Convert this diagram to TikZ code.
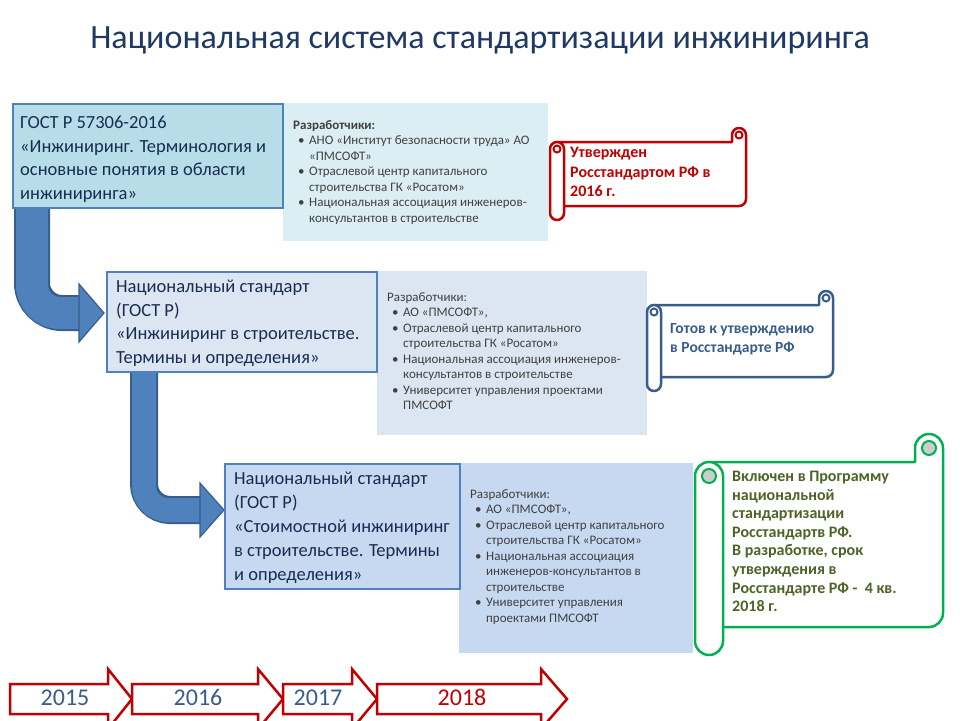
\documentclass[tikz,border=0pt]{standalone}
\usepackage{fontspec}
\setmainfont{Carlito}
\definecolor{ttl}{RGB}{31,56,100}
\definecolor{bord}{RGB}{56,93,138}
\definecolor{arr}{RGB}{79,129,189}
\definecolor{f1}{RGB}{183,222,232}
\definecolor{d1}{RGB}{218,238,243}
\definecolor{f2}{RGB}{220,230,242}
\definecolor{f3}{RGB}{198,217,241}
\definecolor{dred}{RGB}{192,0,0}
\definecolor{grn}{RGB}{0,176,80}
\definecolor{olv}{RGB}{79,98,40}
\definecolor{txt}{RGB}{23,45,80}
\definecolor{gtx}{RGB}{64,64,64}
\newcommand{\scrollshape}[6]{%
 \filldraw[fill=white,draw=#6,line width=2.5pt,line join=round]
  ({#1+#5},#2) -- ({#3-2*#5},#2) -- ({#3-2*#5},{#2-#5}) arc (180:360:#5)
  -- (#3,{#4-#5}) arc (0:90:#5) -- ({#1+#5},#4) -- cycle;
 \filldraw[fill=white,draw=#6,line width=2.5pt]
  (#1,{#2+#5}) arc (180:360:#5) -- ({#1+2*#5},{#4+#5}) arc (0:180:#5) -- cycle;
}
\tikzset{
 stdbox/.style={draw=arr,line width=1.5pt,anchor=north west,inner sep=0},
 devbox/.style={anchor=north west,inner sep=0},
 maintxt/.style={anchor=north west,inner sep=0,align=left,text=txt,font=\fontsize{18.5}{23.5}\selectfont},
 devtxt/.style={anchor=north west,inner sep=0,text=gtx,font=\fontsize{13}{15.5}\selectfont},
 yr/.style={draw=dred,fill=white,line width=2.5pt},
 yrtxt/.style={anchor=base,font=\fontsize{24}{24}\selectfont},
}
\newcommand{\dl}[1]{\makebox[16pt][l]{\hspace{5pt}\textbullet}#1}
\newcommand{\dc}[1]{\hspace*{16pt}#1}
\begin{document}
\begin{tikzpicture}[x=1pt,y=-1pt]
\useasboundingbox (0,0) rectangle (960,720);
\node[text=ttl,font=\fontsize{34}{36}\selectfont] (title) at (480,40) {Национальная система стандартизации инжиниринга};

% dev boxes
\node[devbox,fill=d1,minimum width=265,minimum height=138] (d1) at (283,103) {};
\node[devbox,fill=f2,minimum width=270,minimum height=164] (d2) at (377,271) {};
\node[devbox,fill=f3,minimum width=234,minimum height=190] (d3) at (459,463) {};

% arrows
\draw[bord,line width=36,rounded corners=30] (32,205) |- (82,313);
\draw[arr,line width=32,rounded corners=28] (32,207) |- (82,313);
\filldraw[fill=arr,draw=bord,line width=1.2pt] (79,284) -- (104,313) -- (79,342) -- cycle;
\draw[bord,line width=28,rounded corners=26] (144,369) |- (202,510);
\draw[arr,line width=24,rounded corners=24] (144,371) |- (202,510);
\filldraw[fill=arr,draw=bord,line width=1.2pt] (200,483) -- (224,510) -- (200,537) -- cycle;

% main boxes
\node[stdbox,fill=f1,minimum width=270,minimum height=104] (b1) at (12,103) {};
\node[stdbox,fill=f2,minimum width=270,minimum height=100] (b2) at (106,271) {};
\node[stdbox,fill=f3,minimum width=235,minimum height=125] (b3) at (224,463) {};

\node[maintxt] (t1) at (20,116) {ГОСТ Р 57306-2016\\«Инжиниринг. Терминология и\\основные понятия в области\\инжиниринга»};
\node[maintxt] (t2) at (116,280) {Национальный стандарт\\(ГОСТ Р)\\«Инжиниринг в строительстве.\\Термины и определения»};
\node[maintxt,font=\fontsize{18.5}{24}\selectfont] (t3) at (234,472) {Национальный стандарт\\(ГОСТ Р)\\«Стоимостной инжиниринг\\в строительстве. Термины\\и определения»};

\node[devtxt,align=left] (dt1) at (293,120) {\textbf{Разработчики:}\\\dl{АНО «Институт безопасности труда» АО}\\\dc{«ПМСОФТ»}\\\dl{Отраслевой центр капитального}\\\dc{строительства ГК «Росатом»}\\\dl{Национальная ассоциация инженеров-}\\\dc{консультантов в строительстве}};
\node[devtxt,align=left] (dt2) at (387,292) {Разработчики:\\\dl{АО «ПМСОФТ»,}\\\dl{Отраслевой центр капитального}\\\dc{строительства ГК «Росатом»}\\\dl{Национальная ассоциация инженеров-}\\\dc{консультантов в строительстве}\\\dl{Университет управления проектами}\\\dc{ПМСОФТ}};
\node[devtxt,align=left] (dt3) at (470,489) {Разработчики:\\\dl{АО «ПМСОФТ»,}\\\dl{Отраслевой центр капитального}\\\dc{строительства ГК «Росатом»}\\\dl{Национальная ассоциация}\\\dc{инженеров-консультантов в}\\\dc{строительстве}\\\dl{Университет управления}\\\dc{проектами ПМСОФТ}};

% scrolls
\scrollshape{550}{142}{746}{206}{7}{dred}
\draw[dred,line width=2pt] (557,149) circle (3.5);
\draw[dred,line width=2pt] (739,135) circle (3.5);
\node[anchor=north west,inner sep=0,align=left,text=dred,font=\bfseries\fontsize{16}{19.5}\selectfont] (s1) at (570,147) {Утвержден\\Росстандартом РФ в\\2016 г.};

\scrollshape{647}{305}{833}{377}{7}{bord}
\draw[bord,line width=2pt] (654,312) circle (3.5);
\draw[bord,line width=2pt] (826,298) circle (3.5);
\node[anchor=north west,inner sep=0,align=left,text=bord,font=\bfseries\fontsize{15.5}{19}\selectfont] (s2) at (670,323) {Готов к утверждению\\в Росстандарте РФ};

\scrollshape{695}{462}{943}{627}{14}{grn}
\filldraw[fill=gray!40,draw=grn,line width=2pt] (709,476) circle (7);
\filldraw[fill=gray!40,draw=grn,line width=2pt] (929,448) circle (7);
\node[anchor=north west,inner sep=0,align=left,text=olv,font=\bfseries\fontsize{16}{18.6}\selectfont] (s3) at (732,471) {Включен в Программу\\национальной\\стандартизации\\Росстандартв РФ.\\В разработке, срок\\утверждения в\\Росстандарте РФ -\ \ 4 кв.\\2018 г.};

% timeline
\draw[yr] (10,684) -- (108,684) -- (108,669) -- (132,699) -- (108,729) -- (108,714) -- (10,714) -- cycle;
\draw[yr] (132,684) -- (258,684) -- (258,669) -- (283,699) -- (258,729) -- (258,714) -- (132,714) -- cycle;
\draw[yr] (283,684) -- (352,684) -- (352,669) -- (377,699) -- (352,729) -- (352,714) -- (283,714) -- cycle;
\draw[yr] (377,684) -- (541,684) -- (541,669) -- (567,699) -- (541,729) -- (541,714) -- (377,714) -- cycle;
\node[yrtxt,text=bord] (y1) at (65,705) {2015};
\node[yrtxt,text=bord] (y2) at (198,705) {2016};
\node[yrtxt,text=bord] (y3) at (318,705) {2017};
\node[yrtxt,text=dred] (y4) at (462,705) {2018};
\end{tikzpicture}
\end{document}
